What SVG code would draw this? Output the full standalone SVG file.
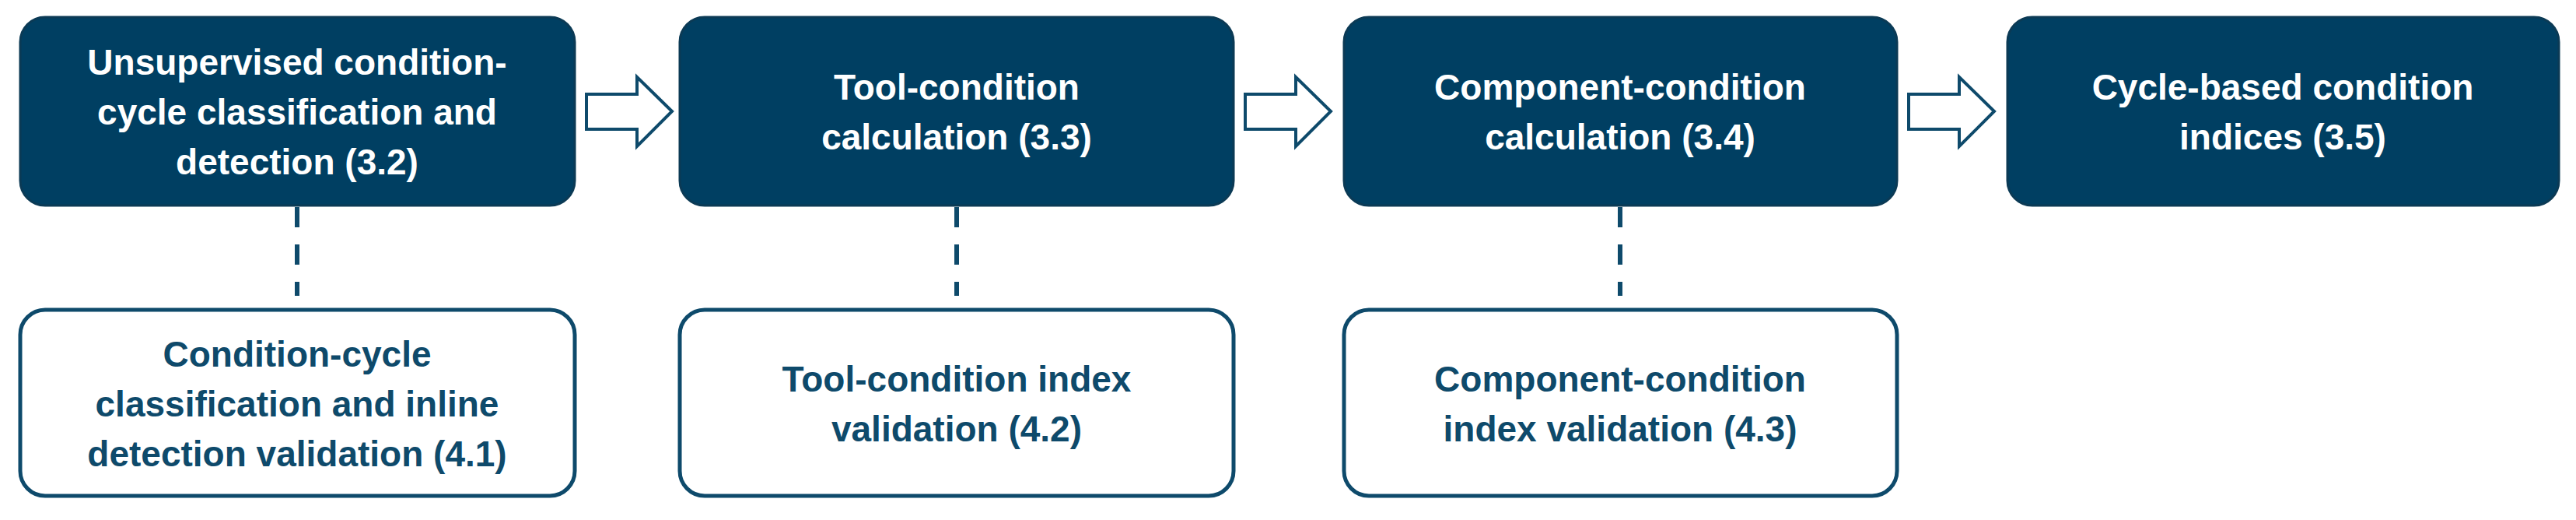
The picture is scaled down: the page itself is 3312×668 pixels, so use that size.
<svg xmlns="http://www.w3.org/2000/svg" width="3312" height="668" viewBox="0 0 3312 668">
<style>
.top{fill:#003F62;stroke:#0B3A55;stroke-width:3}
.bot{fill:#fff;stroke:#0E4A6B;stroke-width:5}
.t{font-family:"Liberation Sans",Arial,sans-serif;font-weight:bold;font-size:46px;text-anchor:middle}
.tw{fill:#fff}.tb{fill:#0E4A6B}
.dash{stroke:#0E4A6B;stroke-width:6;stroke-dasharray:26 22;fill:none}
.arr{fill:#fff;stroke:#0E4A6B;stroke-width:4;stroke-linejoin:miter}
</style>
<rect width="3312" height="668" fill="#fff"/>
<g id="n1"><rect class="top" x="26" y="22" width="713" height="242" rx="32"/>
<text class="t tw" x="382" y="96">Unsupervised condition-</text><text class="t tw" x="382" y="160">cycle classification and</text><text class="t tw" x="382" y="224">detection (3.2)</text></g>
<g id="n2"><rect class="top" x="874" y="22" width="712" height="242" rx="32"/>
<text class="t tw" x="1230" y="128">Tool-condition</text><text class="t tw" x="1230" y="192">calculation (3.3)</text></g>
<g id="n3"><rect class="top" x="1728" y="22" width="711" height="242" rx="32"/>
<text class="t tw" x="2083" y="128">Component-condition</text><text class="t tw" x="2083" y="192">calculation (3.4)</text></g>
<g id="n4"><rect class="top" x="2581" y="22" width="709" height="242" rx="32"/>
<text class="t tw" x="2935" y="128">Cycle-based condition</text><text class="t tw" x="2935" y="192">indices (3.5)</text></g>
<g id="b1"><rect class="bot" x="26" y="398" width="713" height="239" rx="32"/>
<text class="t tb" x="382" y="471">Condition-cycle</text><text class="t tb" x="382" y="535">classification and inline</text><text class="t tb" x="382" y="599">detection validation (4.1)</text></g>
<g id="b2"><rect class="bot" x="874" y="398" width="712" height="239" rx="32"/>
<text class="t tb" x="1230" y="503">Tool-condition  index</text><text class="t tb" x="1230" y="567">validation (4.2)</text></g>
<g id="b3"><rect class="bot" x="1728" y="398" width="711" height="239" rx="32"/>
<text class="t tb" x="2083" y="503">Component-condition</text><text class="t tb" x="2083" y="567">index validation (4.3)</text></g>
<g id="connectors">
<path class="dash" d="M382 266V380"/><path class="dash" d="M1230 266V380"/><path class="dash" d="M2083 266V380"/>
<path class="arr" d="M754 121H819V99L864 143L819 188V166H754Z"/>
<path class="arr" d="M1601 121H1666V99L1711 143L1666 188V166H1601Z"/>
<path class="arr" d="M2454 121H2519V99L2564 143L2519 188V166H2454Z"/>
</g>
</svg>
